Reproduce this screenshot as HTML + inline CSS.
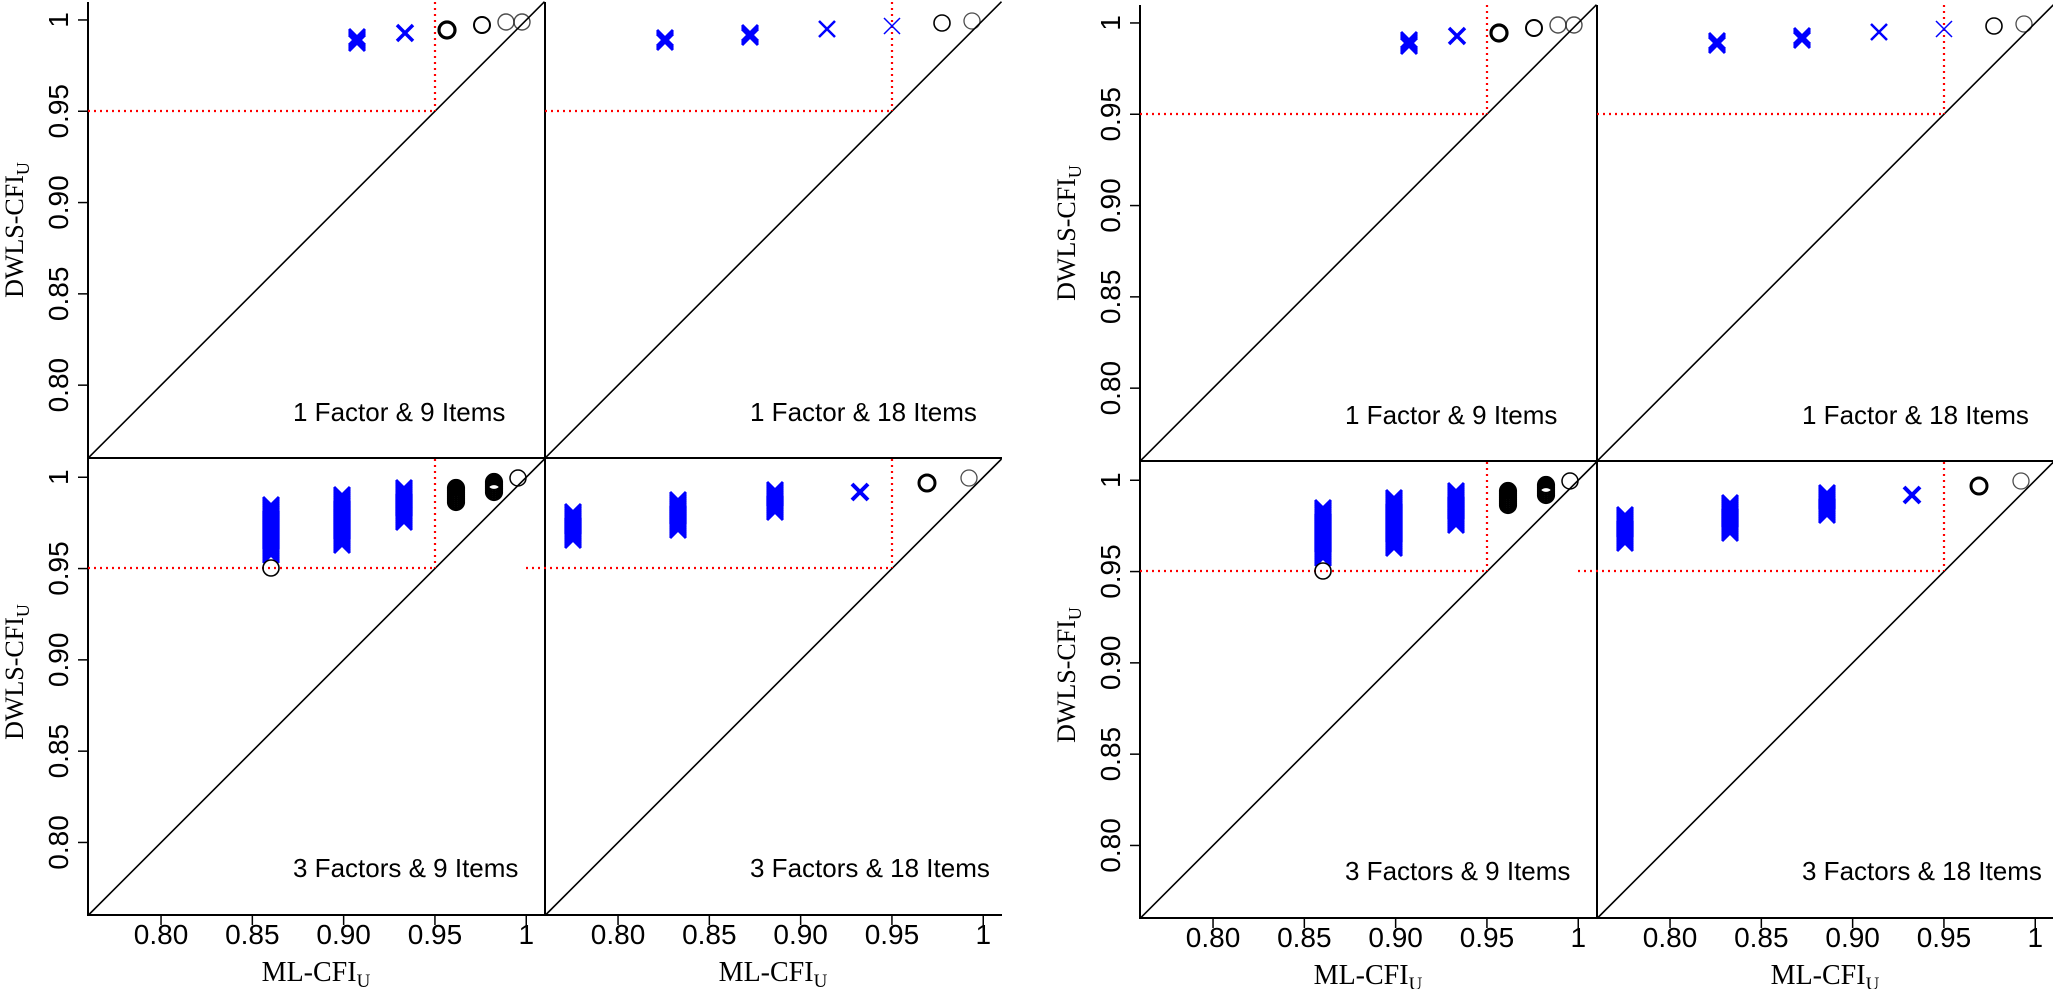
<!DOCTYPE html>
<html><head><meta charset="utf-8"><style>
html,body{margin:0;padding:0;background:#fff;width:2053px;height:989px;overflow:hidden}
svg{display:block}
text{font-family:"Liberation Sans",Arial,sans-serif;fill:#000}
.ser{font-family:"Liberation Serif","Times New Roman",serif}
</style></head><body>
<svg id="s" width="2053" height="989" viewBox="0 0 2053 989" xmlns="http://www.w3.org/2000/svg"></svg>
<script>
const S=document.getElementById('s');
let out='';
function fig(dx,dy){
  let g='<g transform="translate('+dx+','+dy+')">';
  const K=1826;
  const X=(v,p)=>(p?545:88)+(v-0.76)*K;
  const Y=(v,r)=>(r?459:1.7)+(1.01-v)*K;
  g+='<g stroke="#000" stroke-width="2" fill="none">';
  g+='<line x1="88" y1="2" x2="88" y2="916"/>';
  g+='<line x1="545" y1="2" x2="545" y2="915"/>';
  g+='<line x1="88" y1="458" x2="1002" y2="458"/>';
  g+='<line x1="88" y1="915" x2="1002" y2="915"/>';
  g+='</g><g stroke="#000" stroke-width="1.6">';
  for(let p=0;p<2;p++)for(let r=0;r<2;r++){
    g+='<line x1="'+X(0.76,p)+'" y1="'+Y(0.76,r)+'" x2="'+X(1.01,p)+'" y2="'+Y(1.01,r)+'"/>';
  }
  g+='</g>';
  g+='<g stroke="#f00" stroke-width="2.2" stroke-dasharray="2,4" fill="none">';
  g+='<line x1="88" y1="111" x2="435" y2="111"/><line x1="435" y1="2" x2="435" y2="111"/>';
  g+='<line x1="545" y1="111" x2="892" y2="111"/><line x1="892" y1="2" x2="892" y2="111"/>';
  g+='<line x1="88" y1="568" x2="435" y2="568"/><line x1="435" y1="459" x2="435" y2="568"/>';
  g+='<line x1="526" y1="568" x2="892" y2="568"/><line x1="892" y1="459" x2="892" y2="568"/>';
  g+='</g>';
  const vals=[0.80,0.85,0.90,0.95,1],labs=['0.80','0.85','0.90','0.95','1'];
  g+='<g stroke="#000" stroke-width="1.5">';
  for(let r=0;r<2;r++)vals.forEach(v=>{g+='<line x1="78" y1="'+Y(v,r)+'" x2="88" y2="'+Y(v,r)+'"/>';});
  for(let p=0;p<2;p++)vals.forEach(v=>{g+='<line x1="'+X(v,p)+'" y1="915" x2="'+X(v,p)+'" y2="925"/>';});
  g+='</g>';
  for(let r=0;r<2;r++)vals.forEach((v,i)=>{const y=Y(v,r);g+='<text font-size="28" text-anchor="middle" transform="translate(68,'+y+') rotate(-90)">'+labs[i]+'</text>';});
  for(let p=0;p<2;p++)vals.forEach((v,i)=>{g+='<text font-size="28" text-anchor="middle" x="'+X(v,p)+'" y="944">'+labs[i]+'</text>';});
  [230,672].forEach(cy=>{g+='<text class="ser" font-size="26" text-anchor="middle" transform="translate(23,'+cy+') rotate(-90)">DWLS-CFI<tspan font-size="18" dy="6">U</tspan></text>';});
  [316,773].forEach(cx=>{g+='<text class="ser" font-size="28" text-anchor="middle" x="'+cx+'" y="981">ML-CFI<tspan font-size="19" dy="6">U</tspan></text>';});
  g+='<text font-size="26" x="293" y="421">1 Factor &amp; 9 Items</text>';
  g+='<text font-size="26" x="750" y="421">1 Factor &amp; 18 Items</text>';
  g+='<text font-size="26" x="293" y="877">3 Factors &amp; 9 Items</text>';
  g+='<text font-size="26" x="750" y="877">3 Factors &amp; 18 Items</text>';
  const cross=(x,y,h,w)=>'<path d="M'+(x-h)+' '+(y-h)+'L'+(x+h)+' '+(y+h)+'M'+(x-h)+' '+(y+h)+'L'+(x+h)+' '+(y-h)+'" stroke="#0000ff" stroke-width="'+w+'" fill="none"/>';
  const col=(x,y1,y2)=>{let s='';for(let y=y1;y<=y2;y+=2)s+=cross(x,y,8,3);return s;};
  const circ=(x,y,w,o)=>'<circle cx="'+x+'" cy="'+y+'" r="8" stroke="#000" stroke-opacity="'+(o||1)+'" stroke-width="'+w+'" fill="none"/>';
  g+=col(357,37,43)+cross(405,33,8,3.5);
  g+=circ(447,30,3.2)+circ(482,25,2)+circ(506,22,1.4,0.7)+circ(522,22,1.4,0.7);
  g+=col(665,38,42)+col(750,33,37)+cross(827,29,8,2.5)+cross(892,26,8,1.5);
  g+=circ(942,23,1.6)+circ(972,21,1.3,0.7);
  g+=col(271,505,555)+col(342,495,545)+col(404,488,522);
  g+=circ(271,568,1.6);
  for(let y=488;y<=502;y+=2)g+=circ(456,y,2.2);
  for(let y=482;y<=493;y+=2)g+=circ(494,y,2.2);
  g+=circ(518,478,1.5);
  g+=col(573,512,540)+col(678,500,530)+col(775,490,513)+cross(860,492,8,4);
  g+=circ(927,483,3)+circ(969,478,1.3,0.7);
  g+='</g>';
  return g;
}
out+=fig(0,0)+fig(1052,3);
S.innerHTML=out;
</script>
</body></html>
